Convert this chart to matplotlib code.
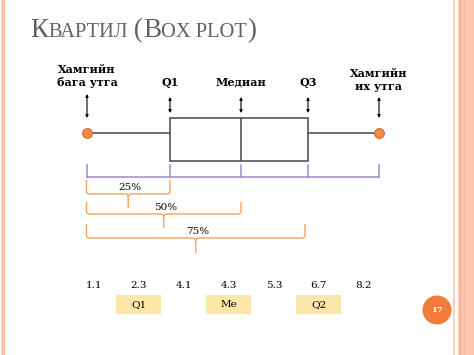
import matplotlib.pyplot as plt
from matplotlib.patches import Rectangle, Circle, PathPatch
from matplotlib.path import Path

# данные слайда
values = [1.1, 2.3, 4.1, 4.3, 5.3, 6.7, 8.2]
tag_index = [1, 3, 5]
tag_text = ['Q1', 'Me', 'Q2']
summary_labels = ['Хамгийн\nбага утга', 'Q1', 'Медиан', 'Q3', 'Хамгийн\nих утга']
pct_labels = ['25%', '50%', '75%']

# схема (пиксели слайда)
summary_x = [87, 170, 241, 308, 379]
whisker_y = 133
box_top, box_bot = 118, 161

TITLE_C = '#606060'
ORANGE = '#f2a45e'
PURPLE = '#a386c9'
GRAY = '#555555'

fig = plt.figure(figsize=(4.74, 3.55), dpi=100)
ax = fig.add_axes([0, 0, 1, 1])
ax.set_xlim(0, 474)
ax.set_ylim(355, 0)
ax.axis('off')

# рамка слайда
ax.add_patch(Rectangle((0.5, 0), 5, 355, color='#fadbd0', lw=0))
ax.axvline(1.8, color='#f6bfaa', lw=0.8)
ax.axvline(4.2, color='#f6bfaa', lw=0.8)
ax.axvline(453.8, color='#f9d2c4', lw=1.5)
ax.add_patch(Rectangle((458, 0), 16, 355, color='#fbc6ae', lw=0))
ax.axvline(460.5, color='#f3ad90', lw=1.0)
ax.axvline(464, color='#f7b89d', lw=0.8)

# заголовок малыми капителями
renderer = fig.canvas.get_renderer()
pieces = [('К', 19.5), ('ВАРТИЛ', 14.7), (' (', 19.5), ('B', 19.5),
          ('OX PLOT', 14.7), (')', 19.5)]
x = 30
for s, size in pieces:
    t = ax.text(x, 37, s, fontsize=size, family='Liberation Serif',
                color=TITLE_C, va='baseline', ha='left')
    bb = t.get_window_extent(renderer)
    x += bb.width

# подписи и стрелки
label_y = [76, 82, 82, 82, 80]
arrow_span = [(94, 118), (97, 113), (97, 113), (97, 113), (97, 118)]
for xp, lab, ly, (a0, a1) in zip(summary_x, summary_labels, label_y, arrow_span):
    ax.text(xp, ly, lab, ha='center', va='center', fontsize=8,
            family='DejaVu Serif', weight='bold', linespacing=1.25)
    ax.annotate('', xy=(xp, a1), xytext=(xp, a0),
                arrowprops=dict(arrowstyle='<|-|>', color='black', lw=0.8,
                                mutation_scale=4, shrinkA=0, shrinkB=0))

# ящик с усами
ax.plot([summary_x[0], summary_x[1]], [whisker_y, whisker_y], color=GRAY, lw=1.2)
ax.plot([summary_x[3], summary_x[4]], [whisker_y, whisker_y], color=GRAY, lw=1.2)
ax.add_patch(Rectangle((summary_x[1], box_top), summary_x[3] - summary_x[1],
                       box_bot - box_top, fill=False, ec=GRAY, lw=1.2))
ax.plot([summary_x[2], summary_x[2]], [box_top, box_bot], color=GRAY, lw=1.2)
ax.plot([summary_x[0], summary_x[4]], [whisker_y, whisker_y], ls='none',
        marker='o', ms=7, mfc='#f58a45', mec='#cf6a2a', mew=0.8)

# фиолетовая шкала
ax.plot([summary_x[0], summary_x[4]], [177, 177], color=PURPLE, lw=1.1)
for xp in summary_x:
    ax.plot([xp, xp], [165, 177], color=PURPLE, lw=1.1)


def brace(x0, x1, ytop, ybot, ytip, r=3):
    xm = (x0 + x1) / 2
    verts = [(x0, ytop), (x0, ybot - r), (x0, ybot), (x0 + r, ybot),
             (xm - r, ybot), (xm, ybot), (xm, ybot + r), (xm, ytip),
             (x1, ytop), (x1, ybot - r), (x1, ybot), (x1 - r, ybot),
             (xm + r, ybot), (xm, ybot), (xm, ybot + r)]
    codes = [Path.MOVETO, Path.LINETO, Path.CURVE3, Path.CURVE3,
             Path.LINETO, Path.CURVE3, Path.CURVE3, Path.LINETO,
             Path.MOVETO, Path.LINETO, Path.CURVE3, Path.CURVE3,
             Path.LINETO, Path.CURVE3, Path.CURVE3]
    ax.add_patch(PathPatch(Path(verts, codes), fill=False, ec=ORANGE, lw=1.0))
    return xm


brace_ends = [170, 241, 305]
brace_rows = [(180, 194, 208), (202, 214, 228), (224, 238, 253)]
for lab, xe, (yt, yb, ytip) in zip(pct_labels, brace_ends, brace_rows):
    xm = brace(summary_x[0] - 0.5, xe, yt, yb, ytip)
    ax.text(xm + 2, yb - 6.5, lab, ha='center', va='center', fontsize=7.5,
            family='DejaVu Serif')

# ряд значений
num_x0, num_dx = 94, 45
for i, v in enumerate(values):
    ax.text(num_x0 + i * num_dx, 286, f'{v:.1f}', ha='center', va='center',
            fontsize=7.5, family='DejaVu Serif')
for i, t in zip(tag_index, tag_text):
    xc = num_x0 + i * num_dx
    ax.add_patch(Rectangle((xc - 22.5, 295), 45, 19, color='#fbe7a8', lw=0))
    ax.text(xc, 304.5, t, ha='center', va='center', fontsize=7.5,
            family='DejaVu Serif')

# номер слайда
ax.add_patch(Circle((437, 310), 14.5, color='#f47c3a', lw=0))
ax.text(437, 310.5, '17', ha='center', va='center', fontsize=6,
        family='DejaVu Serif', weight='bold', color='white')

fig.savefig('out.png', dpi=100)
